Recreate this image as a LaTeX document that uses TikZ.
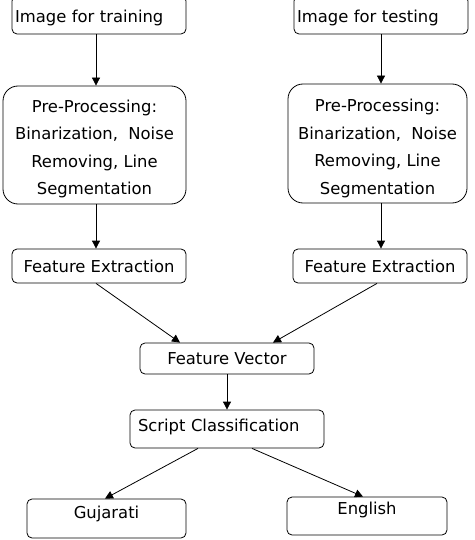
\documentclass[tikz,border=0pt]{standalone}
\usepackage{fontspec}
\setmainfont{DejaVu Sans}
\usetikzlibrary{arrows.meta}
\begin{document}
\begin{tikzpicture}[x=1pt,y=-1pt,
  box/.style={draw, rounded corners=5pt, line width=0.8pt, inner sep=0pt,
    font=\fontsize{16.4}{27.5}\selectfont},
  bigbox/.style={box, rounded corners=15pt, align=center},
  leftbox/.style={box, inner xsep=3pt, align=left, text height=16pt, text depth=0pt},
  arr/.style={-{Triangle[length=8pt,width=8pt]}, line width=0.8pt}]
\useasboundingbox (0,0) rectangle (474,540);
\fill[white] (0,0) rectangle (474,540);

\node[leftbox, minimum width=174pt, minimum height=38pt, text width=168pt] (b1) at (99,15) {Image for training};
\node[leftbox, minimum width=174pt, minimum height=38pt, text width=168pt] (b2) at (381,15) {Image for testing};

\node[bigbox, minimum width=183pt, minimum height=118pt] (p1) at (94.5,145)
  {\rule{0pt}{20.4pt}Pre-Processing:\\Binarization,\ \ Noise\\Removing, Line\\Segmentation};
\node[bigbox, minimum width=179pt, minimum height=119pt] (p2) at (377.5,143.5)
  {\rule{0pt}{22.4pt}Pre-Processing:\\Binarization,\ \ Noise\\Removing, Line\\Segmentation};

\node[box, minimum width=174pt, minimum height=34pt] (f1) at (99,266) {Feature Extraction};
\node[box, minimum width=174pt, minimum height=34pt] (f2) at (380,266) {Feature Extraction};

\node[box, minimum width=174pt, minimum height=31pt] (fv) at (227,358.5) {Feature Vector};

\node[box, minimum width=194pt, minimum height=38pt, inner xsep=8pt, text width=178pt, align=left,
  text height=12pt, text depth=8pt] (sc) at (227,429) {Script Classification};

\node[box, minimum width=159pt, minimum height=39pt, text height=12pt, text depth=13pt] (gu) at (106.5,518.5) {Gujarati};
\node[box, minimum width=160pt, minimum height=38pt, text height=12pt, text depth=16pt] (en) at (367,516) {English};

\draw[arr] ([xshift=-3pt]b1.south) -- ([xshift=1.5pt]p1.north);
\draw[arr] (b2.south) -- (b2.south |- p2.north);
\draw[arr] ([xshift=1.5pt]p1.south) -- ([xshift=-3pt]f1.north);
\draw[arr] ([xshift=3.5pt]p2.south) -- ([xshift=1pt]f2.north);
\draw[arr] ([xshift=-3pt]f1.south) -- ([xshift=-47pt]fv.north);
\draw[arr] ([xshift=-3pt]f2.south) -- ([xshift=46pt]fv.north);
\draw[arr] (fv.south) -- (sc.north);
\draw[arr] ([xshift=-29pt]sc.south) -- ([xshift=-1.5pt]gu.north);
\draw[arr] ([xshift=25pt]sc.south) -- ([xshift=-4pt]en.north);
\end{tikzpicture}
\end{document}
